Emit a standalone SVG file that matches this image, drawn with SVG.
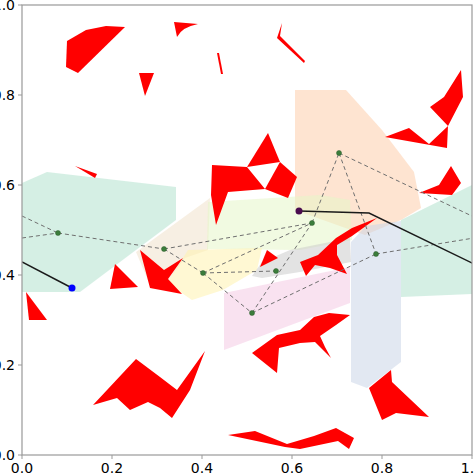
<svg xmlns="http://www.w3.org/2000/svg" width="474" height="474" viewBox="0 0 474 474">
<defs>
<style>
.reg{fill-opacity:0.55;stroke:none}
.obs{fill:#ff0000;stroke:none}
.edge{fill:none;stroke:#6f6f6f;stroke-width:1;stroke-dasharray:4,3}
.node{fill:#3b7d3b;stroke:#2e5e2e;stroke-width:0.5}
.path{fill:none;stroke:#1a1a1a;stroke-width:1.5}
.tick{stroke:#999;stroke-width:1}
.lbl{font-family:"DejaVu Sans","Liberation Sans",sans-serif;font-size:14px;fill:#000}
</style>
<clipPath id="plot"><rect x="22" y="5" width="450" height="450"/></clipPath>
</defs>
<rect width="474" height="474" fill="#fff"/>
<g id="regions" clip-path="url(#plot)">
<polygon id="r-teal-left" class="reg" fill="#b3e2cd" points="22,183 47,172 176,187 176,220 80,292 22,292"/>
<polygon id="r-teal-right" class="reg" fill="#b3e2cd" points="401,220 474,184 474,294 401,297"/>
<polygon id="r-peach" class="reg" fill="#fdcdac" points="295,90 346,90 382,130 414,172 421,208 401,220 365,235 295,210"/>
<polygon id="r-beige" class="reg" fill="#f1e2cc" points="136,252 210,198 208,250 185,258 165,285 150,285"/>
<polygon id="r-green" class="reg" fill="#e6f5c9" points="208,202 320,195 350,200 352,240 300,250 207,249"/>
<polygon id="r-yellow" class="reg" fill="#fff2ae" points="167,283 188,250 262,248 257,270 223,290 192,300"/>
<polygon id="r-gray" class="reg" fill="#cccccc" points="252,276 262,262 290,250 350,238 351,262 300,272 262,278"/>
<polygon id="r-pink" class="reg" fill="#f4cae4" points="224,293 350,267 350,303 224,350"/>
<polygon id="r-lavender" class="reg" fill="#cbd5e8" points="351,242 366,226 401,221 401,362 367,388 351,382"/>
</g>
<g id="obstacles">
<polygon class="obs" points="67,41 86,30 106,26 125,27 78,73 66,67"/>
<polygon class="obs" points="139,73 154,73 145,96"/>
<path class="obs" d="M174,22 L198,24 Q182,27 177,37 Z"/>
<polygon class="obs" points="217,53 219,53 223,74 221,74"/>
<polygon class="obs" points="282,23 280,36 305,61 304,63 277,38"/>
<polygon class="obs" points="385,137 409,128 429,144 448,126 430,107 444,97 461,70 463,97 448,126 447,148"/>
<polygon class="obs" points="75,166 97,174 95,178"/>
<polygon class="obs" points="212,165 247,167 265,189 228,192 216,225 211,195"/>
<polygon class="obs" points="247,167 268,133 280,162"/>
<polygon class="obs" points="280,162 297,177 288,198 265,189"/>
<polygon class="obs" points="419,193 439,185 451,166 461,183 452,195"/>
<polygon class="obs" points="115,264 138,287 110,289"/>
<polygon class="obs" points="140,250 164,270 183,258 168,279 182,294 150,288"/>
<polygon class="obs" points="26,292 47,320 29,320"/>
<polygon class="obs" points="267,250 278,258 260,267"/>
<polygon class="obs" points="377,218 352,228 336,238 318,255 300,262 306,276 315,265 330,268 347,274 337,255 337,245 352,236"/>
<polygon class="obs" points="93,405 136,359 160,377 177,390 205,351 190,390 172,418 160,408 148,402 130,410 117,398"/>
<polygon class="obs" points="252,353 277,335 300,330 314,317 329,313 350,315 336,325 320,336 325,347 331,358 315,342 300,343 279,348 277,373"/>
<polygon class="obs" points="369,388 391,370 392,382 429,417 396,413 382,420"/>
<polygon class="obs" points="228,435 255,431 287,444 314,436 336,428 354,438 349,449 338,441 300,449 285,447"/>
</g>
<g id="connectors" clip-path="url(#plot)">
<line class="edge" x1="22" y1="216" x2="58" y2="233"/>
<line class="edge" x1="22" y1="238" x2="58" y2="233"/>
<line class="edge" x1="58" y1="233" x2="164" y2="249"/>
<line class="edge" x1="164" y1="249" x2="312" y2="223"/>
<line class="edge" x1="164" y1="249" x2="203" y2="273"/>
<line class="edge" x1="203" y1="273" x2="312" y2="223"/>
<line class="edge" x1="203" y1="273" x2="276" y2="271"/>
<line class="edge" x1="203" y1="273" x2="252" y2="313"/>
<line class="edge" x1="252" y1="313" x2="312" y2="223"/>
<line class="edge" x1="252" y1="313" x2="376" y2="254"/>
<line class="edge" x1="312" y1="223" x2="339" y2="153"/>
<line class="edge" x1="339" y1="153" x2="376" y2="254"/>
<line class="edge" x1="339" y1="153" x2="474" y2="217"/>
<line class="edge" x1="376" y1="254" x2="474" y2="238"/>
<polyline class="path" points="22,262 72,288"/>
<polyline class="path" points="299,211 369,213 474,264"/>
</g>
<g id="n1"><circle class="node" cx="58" cy="233" r="2.5"/></g>
<g id="n2"><circle class="node" cx="164" cy="249" r="2.5"/></g>
<g id="n3"><circle class="node" cx="203" cy="273" r="2.5"/></g>
<g id="n4"><circle class="node" cx="276" cy="271" r="2.5"/></g>
<g id="n5"><circle class="node" cx="252" cy="313" r="2.5"/></g>
<g id="n6"><circle class="node" cx="312" cy="223" r="2.5"/></g>
<g id="n7"><circle class="node" cx="339" cy="153" r="2.5"/></g>
<g id="n8"><circle class="node" cx="376" cy="254" r="2.5"/></g>
<g id="start"><circle cx="72" cy="288" r="3.5" fill="#0000ff"/></g>
<g id="goal"><circle cx="299" cy="211" r="3.5" fill="#4a0c4f"/></g>
<g id="axes">
<rect x="22" y="5" width="450" height="450" fill="none" stroke="#999" stroke-width="1.2"/>
<g class="tick">
<line x1="18" y1="5" x2="22" y2="5"/><line x1="18" y1="95" x2="22" y2="95"/><line x1="18" y1="185" x2="22" y2="185"/>
<line x1="18" y1="275" x2="22" y2="275"/><line x1="18" y1="365" x2="22" y2="365"/><line x1="18" y1="455" x2="22" y2="455"/>
<line x1="22" y1="455" x2="22" y2="459"/><line x1="112" y1="455" x2="112" y2="459"/><line x1="202" y1="455" x2="202" y2="459"/>
<line x1="292" y1="455" x2="292" y2="459"/><line x1="382" y1="455" x2="382" y2="459"/><line x1="472" y1="455" x2="472" y2="459"/>
</g>
<g class="lbl" text-anchor="end">
<text x="15" y="10">1.0</text><text x="15" y="100">0.8</text><text x="15" y="190">0.6</text>
<text x="15" y="280">0.4</text><text x="15" y="370">0.2</text><text x="15" y="460">0.0</text>
</g>
<g class="lbl" text-anchor="middle">
<text x="22" y="473">0.0</text><text x="112" y="473">0.2</text><text x="202" y="473">0.4</text>
<text x="292" y="473">0.6</text><text x="382" y="473">0.8</text><text x="472" y="473">1.0</text>
</g>
</g>
</svg>
